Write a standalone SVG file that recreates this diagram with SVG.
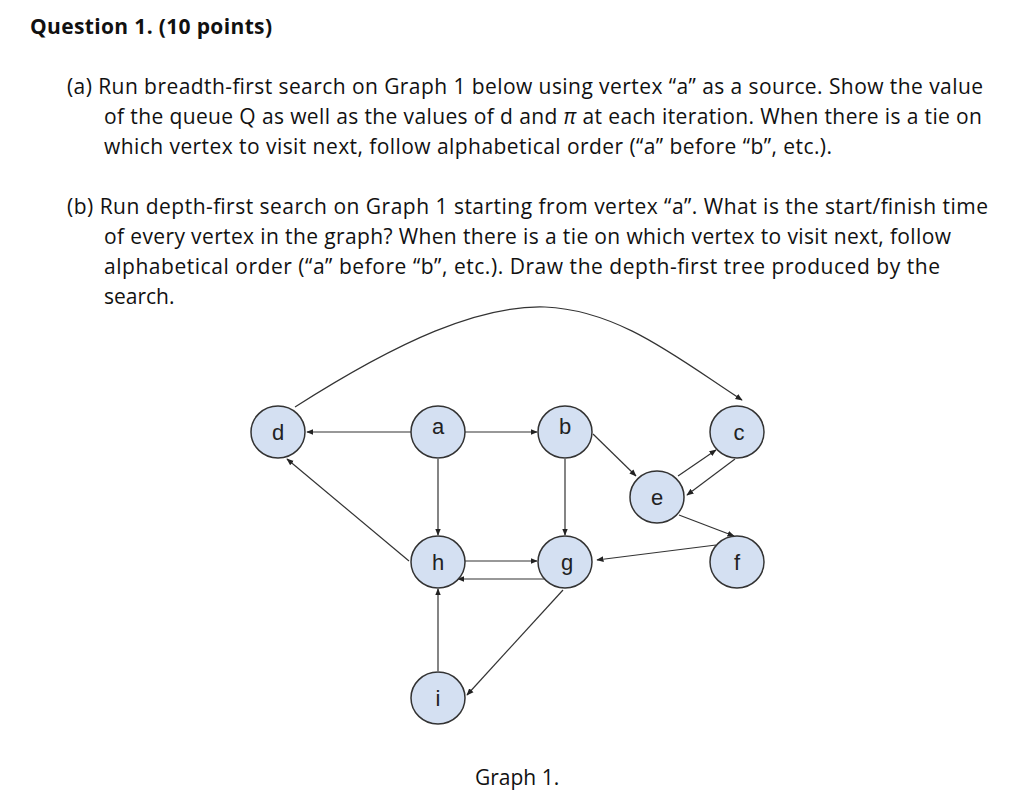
<svg xmlns="http://www.w3.org/2000/svg" width="1024" height="806" viewBox="0 0 1024 806">
<defs>
<style>
.t{font-family:"Open Sans","Liberation Sans",sans-serif;font-size:21px;fill:#111}
.n ellipse{fill:#d4e0f2;stroke:#333;stroke-width:1.5}
.n text{font-family:"Liberation Sans",Arial,sans-serif;font-size:22px;fill:#222;text-anchor:middle}
.e{stroke:#333;stroke-width:1.2;fill:none;marker-end:url(#ah)}
</style>
<marker id="ah" viewBox="0 0 10 10" refX="9" refY="5" markerWidth="6" markerHeight="6" orient="auto"><path d="M0,1 L10,5 L0,9 z" fill="#222"/></marker>
</defs>
<rect width="1024" height="806" fill="#fff"/>
<text class="t" x="30" y="34" font-size="20" font-weight="bold" textLength="242" lengthAdjust="spacing">Question 1.  (10 points)</text>
<text class="t" x="67" y="94" textLength="916" lengthAdjust="spacing">(a) Run breadth-first search on Graph 1 below using vertex “a” as a source.  Show the value</text>
<text class="t" x="104" y="124" textLength="878" lengthAdjust="spacing">of the queue Q as well as the values of d and <tspan font-style="italic">π</tspan> at each iteration.  When there is a tie on</text>
<text class="t" x="104" y="154" textLength="728" lengthAdjust="spacing">which vertex to visit next, follow alphabetical order (“a” before “b”, etc.).</text>
<text class="t" x="67" y="214" textLength="921" lengthAdjust="spacing">(b) Run depth-first search on Graph 1 starting from vertex “a”.  What is the start/finish time</text>
<text class="t" x="104" y="244" textLength="847" lengthAdjust="spacing">of every vertex in the graph? When there is a tie on which vertex to visit next, follow</text>
<text class="t" x="104" y="274" textLength="836" lengthAdjust="spacing">alphabetical order (“a” before “b”, etc.).  Draw the depth-first tree produced by the</text>
<text class="t" x="104" y="304">search.</text>
<g id="edges">
<path class="e" d="M295,407 C400,340 480,305 545,307 C620,310 680,360 742,400"/>
<line class="e" x1="411" y1="432" x2="307" y2="432"/>
<line class="e" x1="465" y1="432" x2="537" y2="432"/>
<line class="e" x1="438" y1="459" x2="438" y2="535"/>
<line class="e" x1="565" y1="459" x2="565" y2="535"/>
<line class="e" x1="593" y1="434" x2="636" y2="476"/>
<line class="e" x1="678" y1="476" x2="716" y2="450"/>
<line class="e" x1="735" y1="459" x2="687" y2="495"/>
<line class="e" x1="679" y1="515" x2="734" y2="536"/>
<line class="e" x1="716" y1="545" x2="597" y2="560"/>
<line class="e" x1="465" y1="561" x2="537" y2="561"/>
<line class="e" x1="550" y1="579" x2="458" y2="579"/>
<line class="e" x1="409" y1="561" x2="287" y2="459"/>
<line class="e" x1="563" y1="590" x2="467" y2="695"/>
<line class="e" x1="438" y1="671" x2="438" y2="589"/>
</g>
<g id="node-d" class="n"><ellipse cx="278" cy="432" rx="27" ry="26"/><text x="278" y="440">d</text></g>
<g id="node-a" class="n"><ellipse cx="438" cy="432" rx="27" ry="26"/><text x="438" y="434">a</text></g>
<g id="node-b" class="n"><ellipse cx="565" cy="432" rx="27" ry="26"/><text x="565" y="434">b</text></g>
<g id="node-c" class="n"><ellipse cx="737" cy="432" rx="27" ry="26"/><text x="739" y="440">c</text></g>
<g id="node-e" class="n"><ellipse cx="657" cy="497" rx="27" ry="26"/><text x="657" y="505">e</text></g>
<g id="node-h" class="n"><ellipse cx="438" cy="562" rx="27" ry="26"/><text x="438" y="570">h</text></g>
<g id="node-g" class="n"><ellipse cx="565" cy="562" rx="27" ry="26"/><text x="567" y="570">g</text></g>
<g id="node-f" class="n"><ellipse cx="737" cy="562" rx="27" ry="26"/><text x="737" y="570">f</text></g>
<g id="node-i" class="n"><ellipse cx="438" cy="698" rx="27" ry="26"/><text x="438" y="706">i</text></g>
<text class="t" x="475" y="785" font-size="20">Graph 1.</text>
</svg>
